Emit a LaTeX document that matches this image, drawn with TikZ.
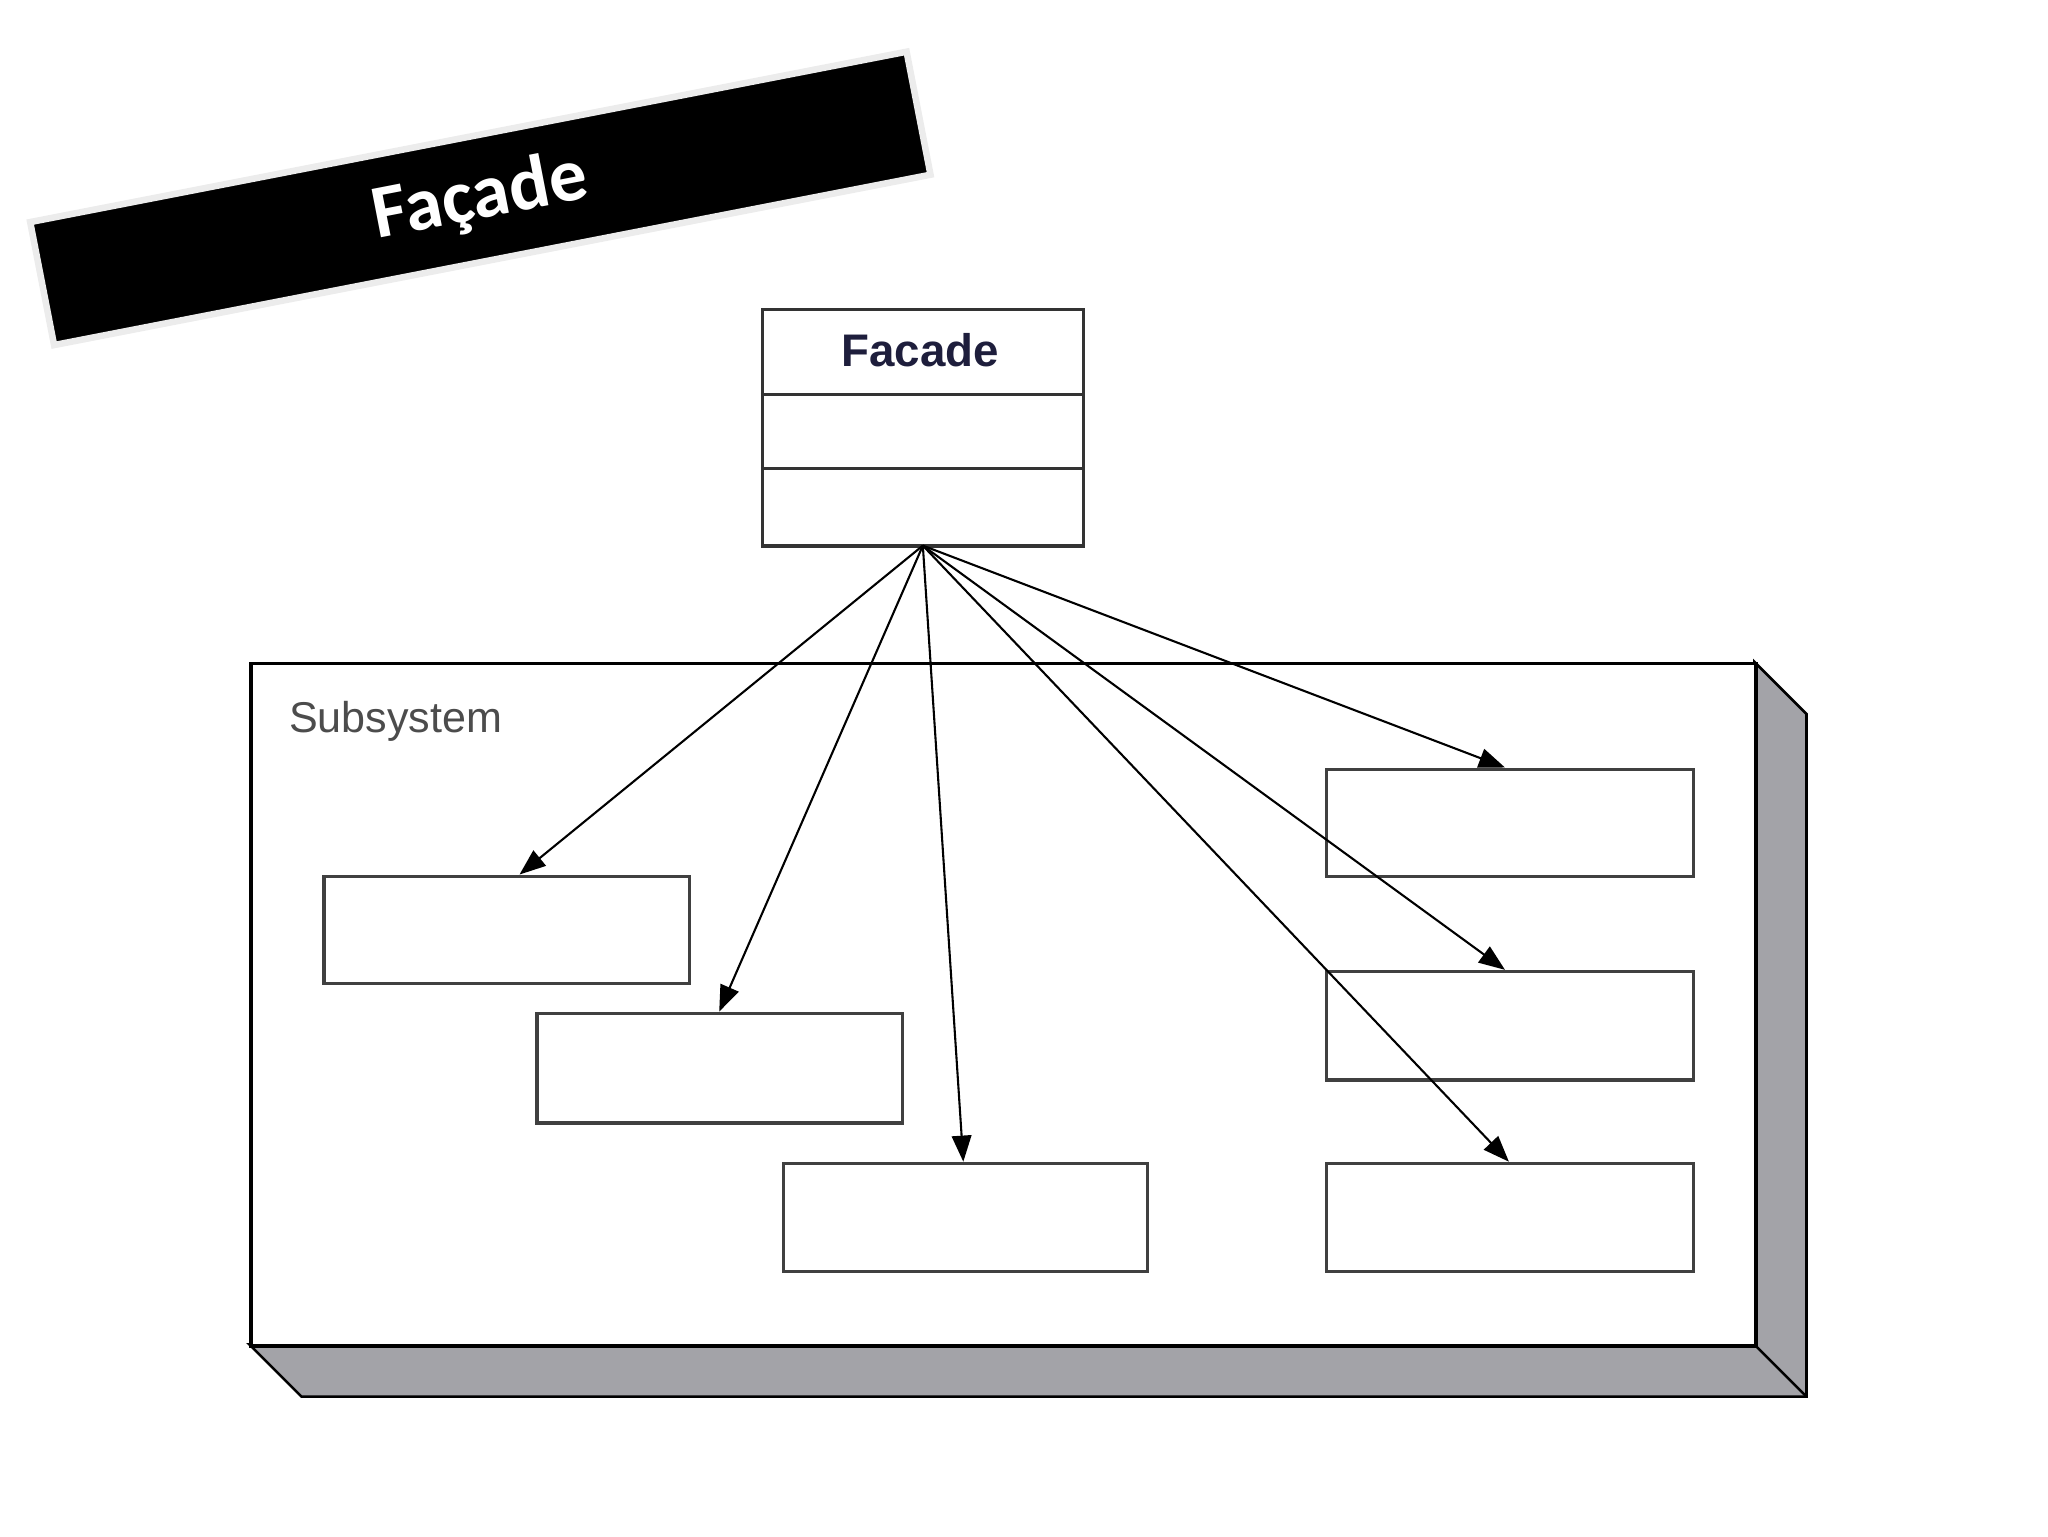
\documentclass[tikz,border=0pt]{standalone}
\usepackage{fontspec}
\setmainfont{Liberation Sans}
\newfontfamily\titlefont{Carlito}
\usetikzlibrary{arrows.meta,calc}
\definecolor{navy}{HTML}{1E1E3C}
\definecolor{sidegray}{HTML}{A3A3A8}
\tikzset{
  subbox/.style={draw=black!75, line width=2.6pt, fill=white, anchor=north west, minimum width=280pt, minimum height=82pt, inner sep=0pt},
  dep/.style={line width=1.6pt, -{Triangle[length=20pt,width=15pt]}},
}
\begin{document}
\begin{tikzpicture}[x=1pt,y=-1pt]
\useasboundingbox (0,0) rectangle (1569,1177);
% banner
\node[fill=black, draw=white!85!gray, line width=5pt, minimum width=684pt, minimum height=96pt, rotate=11] (banner) at (368,152) {};
\node[rotate=11, text=white, font=\titlefont\bfseries\fontsize{58}{64}\selectfont] (bt) at (368,152) {Façade};
% subsystem 3D
\fill[sidegray, draw=black, line width=2pt] (191,1030) -- (231,1070) -- (1384,1070) -- (1384,547) -- (1344,507) -- (1344,1030) -- cycle;
\draw[line width=2pt] (1344,1030) -- (1384,1070);
\node[draw=black, line width=2.6pt, fill=white, anchor=north west, minimum width=1153pt, minimum height=523pt, inner sep=0pt] (sub) at (191,507) {};
\node[anchor=west, text=black!70, font=\fontsize{33}{36}\selectfont] (sublabel) at (218,553) {Subsystem};
% facade class
\node[draw=black!80, line width=2.6pt, fill=white, anchor=north west, minimum width=246pt, minimum height=181pt, inner sep=0pt] (fac) at (583,236) {};
\draw[line width=2.6pt, black!80] (583,302) -- (829,302) (583,359) -- (829,359);
\node[font=\bfseries\fontsize{35}{38}\selectfont, text=navy] (facname) at (705,268) {Facade};
\coordinate (src) at (707,418);
% subsystem classes
\node[subbox] (A) at (247,670) {};
\node[subbox, minimum height=84pt] (B) at (410,775) {};
\node[subbox, minimum width=279pt, minimum height=83pt] (C) at (599,890) {};
\node[subbox, minimum width=281pt] (D) at (1015,588) {};
\node[subbox, minimum width=281pt, minimum height=83pt] (E) at (1015,743) {};
\node[subbox, minimum width=281pt, minimum height=83pt] (F) at (1015,890) {};
% dependencies
\draw[dep] (src) -- ([xshift=151pt]A.north west);
\draw[dep] (src) -- ([xshift=141pt]B.north west);
\draw[dep] (src) -- ([xshift=139pt]C.north west);
\draw[dep] (src) -- ([xshift=138pt]D.north west);
\draw[dep] (src) -- ([xshift=138pt]E.north west);
\draw[dep] (src) -- ([xshift=141pt]F.north west);
\end{tikzpicture}
\end{document}
